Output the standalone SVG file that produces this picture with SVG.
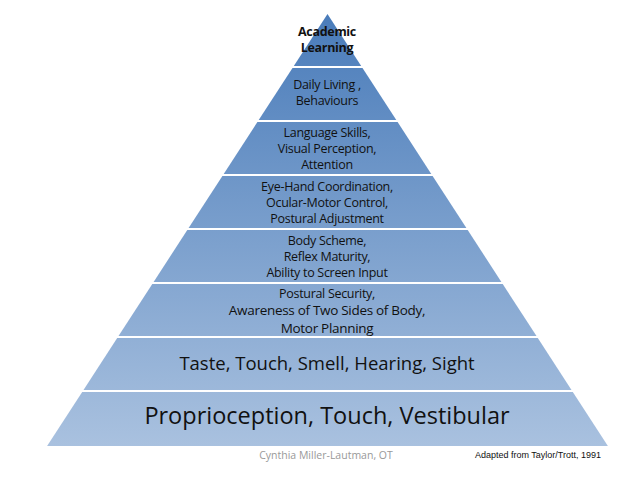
<svg xmlns="http://www.w3.org/2000/svg" width="638" height="478" viewBox="0 0 638 478">
<defs>
<linearGradient id="g" gradientUnits="userSpaceOnUse" x1="0" y1="14" x2="0" y2="446">
<stop offset="0" stop-color="#4a7cba"/><stop offset="1" stop-color="#a9c1df"/></linearGradient>
<style>
polygon{fill:url(#g)}
text{font-family:"Open Sans","Noto Sans",sans-serif;fill:#111;text-anchor:middle}
.s{font-size:12.5px;letter-spacing:-0.3px}
</style>
</defs>
<rect width="638" height="478" fill="#fff"/>
<g id="n1"><polygon points="327.5,14 361.2,66 293.8,66"/><text class="s" x="327" y="36" font-weight="bold">Academic</text><text class="s" x="327" y="52" font-weight="bold">Learning</text></g>
<g id="n2"><polygon points="292.5,68 362.5,68 396.3,120 258.7,120"/><text class="s" x="327" y="89">Daily Living ,</text><text class="s" x="327" y="105">Behaviours</text></g>
<g id="n3"><polygon points="257.4,122 397.6,122 431.3,174 223.7,174"/><text class="s" x="327" y="137">Language Skills,</text><text class="s" x="327" y="153">Visual Perception,</text><text class="s" x="327" y="169">Attention</text></g>
<g id="n4"><polygon points="222.4,176 432.6,176 466.4,228 188.6,228"/><text class="s" x="327" y="191">Eye-Hand Coordination,</text><text class="s" x="327" y="207">Ocular-Motor Control,</text><text class="s" x="327" y="223">Postural Adjustment</text></g>
<g id="n5"><polygon points="187.3,230 467.7,230 501.4,282 153.6,282"/><text class="s" x="327" y="245">Body Scheme,</text><text class="s" x="327" y="261">Reflex Maturity,</text><text class="s" x="327" y="277">Ability to Screen Input</text></g>
<g id="n6"><polygon points="152.3,284 502.7,284 536.5,336 118.5,336"/><text class="s" x="327" y="298" font-size="13.5px">Postural Security,</text><text class="s" x="327" y="315" style="font-size:13.5px">Awareness of Two Sides of Body,</text><text class="s" x="327" y="333" style="font-size:13.5px">Motor Planning</text></g>
<g id="n7"><polygon points="117.2,338 537.8,338 571.5,390 83.5,390"/><text x="327" y="370" font-size="18.5">Taste, Touch, Smell, Hearing, Sight</text></g>
<g id="n8"><polygon points="82.2,392 572.8,392 607.9,446 47.1,446"/><text x="327" y="424" font-size="23.5">Proprioception, Touch, Vestibular</text></g>
<g id="connectors"/>
<text x="326" y="459" font-size="10.5" style="fill:#999">Cynthia Miller-Lautman, OT</text>
<text x="538" y="458" style="font-family:'Liberation Sans',sans-serif;font-size:9px;fill:#111">Adapted from Taylor/Trott, 1991</text>
</svg>
